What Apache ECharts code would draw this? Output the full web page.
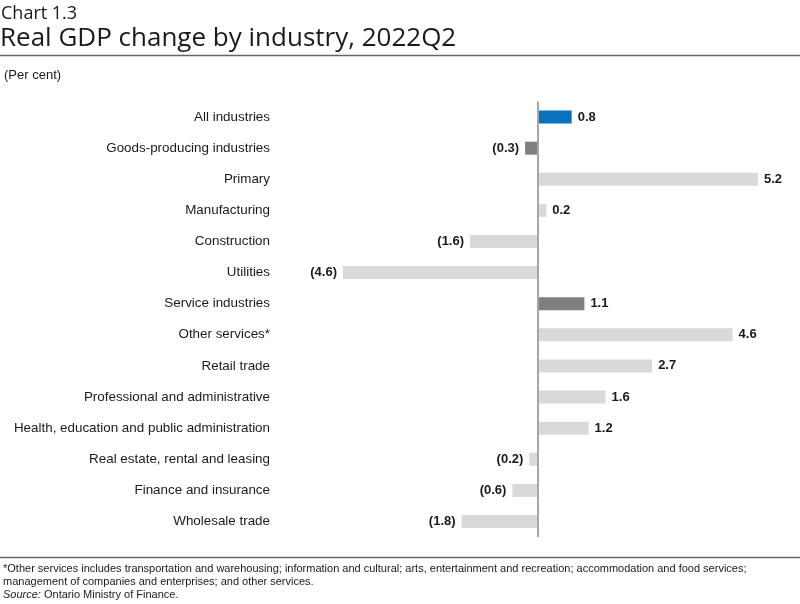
<!DOCTYPE html>
<html><head><meta charset="utf-8">
<script src="https://cdn.jsdelivr.net/npm/echarts@6/dist/echarts.min.js"></script>
<style>html,body{margin:0;padding:0;background:#fff}#c{width:800px;height:604px}</style>
</head><body><div id="c"></div>
<script>
const categories = ["All industries","Goods-producing industries","Primary","Manufacturing","Construction","Utilities","Service industries","Other services*","Retail trade","Professional and administrative","Health, education and public administration","Real estate, rental and leasing","Finance and insurance","Wholesale trade"];
const values = [0.8,-0.3,5.2,0.2,-1.6,-4.6,1.1,4.6,2.7,1.6,1.2,-0.2,-0.6,-1.8];
const highlightAll = [0];
const highlightGroup = [1,6];

const colorFor = i => highlightAll.includes(i) ? '#0a72bd' : (highlightGroup.includes(i) ? '#7f7f7f' : '#d9d9d9');
const fmt = v => v < 0 ? '(' + Math.abs(v).toFixed(1) + ')' : v.toFixed(1);

const chart = echarts.init(document.getElementById('c'));
chart.setOption({
  animation:false,
  textStyle:{fontFamily:'Liberation Sans, Arial'},
  grid:{left:343,right:42,top:101.5,bottom:67,containLabel:false},
  xAxis:{type:'value',min:-4.6,max:5.2,show:false},
  yAxis:{type:'category',data:categories,inverse:true,
    axisLine:{show:false},axisTick:{show:false},splitLine:{show:false},
    axisLabel:{margin:73,fontSize:13.4,color:'#1a1a1a',fontFamily:'Liberation Sans, Arial'}},
  series:[{type:'bar',barWidth:13,
    data:values.map((v,i)=>({value:v,itemStyle:{color:colorFor(i)},
      label:{position:v<0?'left':'right'}})),
    label:{show:true,distance:6,fontSize:13,fontWeight:'bold',color:'#1a1a1a',
      formatter:p=>fmt(p.value)},
    markLine:{silent:true,symbol:'none',label:{show:false},
      lineStyle:{color:'#a6a6a6',width:2,type:'solid'},
      data:[{xAxis:0}]}
  }],
  graphic:[
    {type:'text',left:1,top:5,style:{text:'Chart 1.3',font:'500 18px "Open Sans", sans-serif',fill:'#1a1a1a'}},
    {type:'text',left:0,top:26,style:{text:'Real GDP change by industry, 2022Q2',font:'500 26px "Open Sans", sans-serif',fill:'#1a1a1a'}},
    {type:'line',shape:{x1:0,y1:55.5,x2:800,y2:55.5},style:{stroke:'#666',lineWidth:1.5}},
    {type:'text',left:4,top:69,style:{text:'(Per cent)',font:'13px "Liberation Sans", Arial',fill:'#1a1a1a'}},
    {type:'line',shape:{x1:0,y1:557.5,x2:800,y2:557.5},style:{stroke:'#666',lineWidth:1.5}},
    {type:'text',left:3,top:562,style:{
      text:'*Other services includes transportation and warehousing; information and cultural; arts, entertainment and recreation; accommodation and food services;\nmanagement of companies and enterprises; and other services.\n{i|Source:} Ontario Ministry of Finance.',
      font:'11px "Liberation Sans Narrow", "Liberation Sans", Arial',fill:'#1a1a1a',lineHeight:13,
      rich:{i:{fontStyle:'italic',fontSize:11,fontFamily:'"Liberation Sans Narrow", "Liberation Sans", Arial',fill:'#1a1a1a'}}}}
  ]
});
</script></body></html>
